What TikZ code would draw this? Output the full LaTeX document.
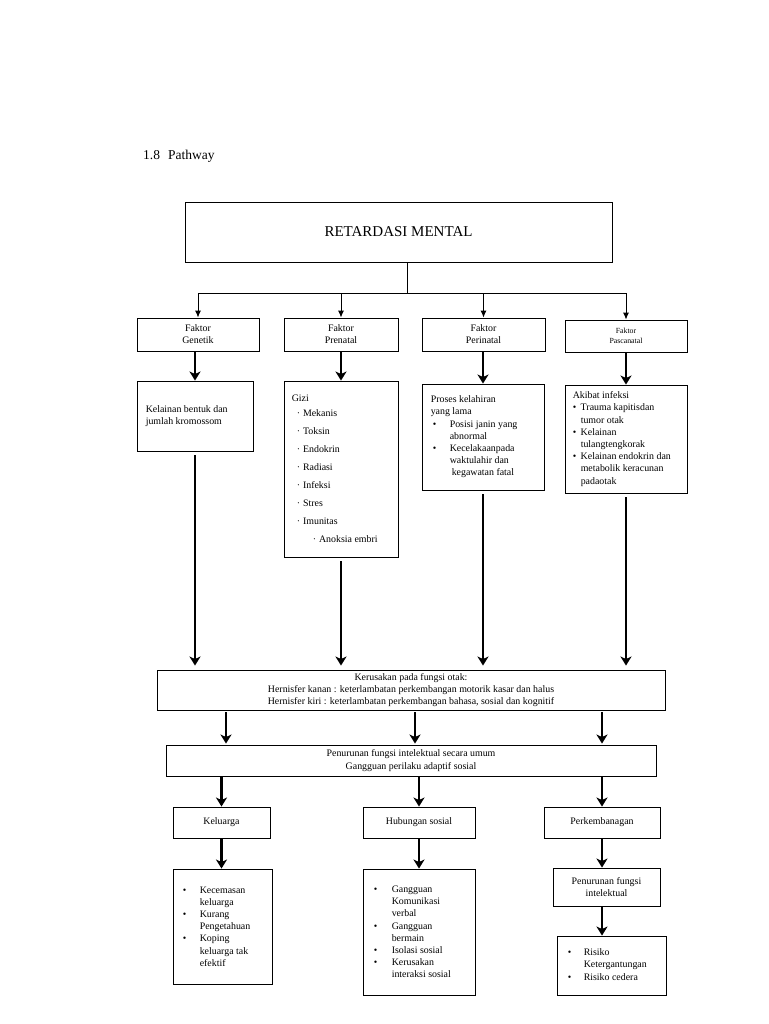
\documentclass[tikz,border=0pt]{standalone}
\usepackage{fontspec}
\setmainfont{Liberation Serif}
\usetikzlibrary{arrows.meta}
\begin{document}
\begin{tikzpicture}[x=1pt,y=-1pt,
  box/.style={draw, line width=0.9pt, inner sep=0pt, align=center, font=\fontsize{9.9}{12}\selectfont},
  txt/.style={inner sep=0pt, anchor=west, align=left, font=\fontsize{9.9}{12.2}\selectfont},
  thin arrow/.style={line width=0.9pt, -{Latex[length=7pt,width=6pt]}},
  bold arrow/.style={line width=2.5pt, -{Stealth[length=9pt,width=11pt,inset=2.5pt]}},
  link/.style={line width=0.9pt}]
\useasboundingbox[fill=white] (0,0) rectangle (768,1024);

\node[anchor=base west, inner sep=0pt, font=\fontsize{13.5}{15}\selectfont] (title) at (143,160) {1.8\hspace{8pt}Pathway};

\node[box, minimum width=427pt, minimum height=60pt, font=\fontsize{15}{18}\selectfont] (rm) at (398.5,232) {RETARDASI MENTAL};

% faktor boxes
\node[box, minimum width=122pt, minimum height=33pt] (fg) at (198,334.5) {Faktor\\Genetik};
\node[box, minimum width=114pt, minimum height=33pt] (fp) at (341,334.5) {Faktor\\Prenatal};
\node[box, minimum width=123pt, minimum height=33pt] (fpe) at (483.5,334.5) {Faktor\\Perinatal};
\node[box, minimum width=122pt, minimum height=32pt, font=\fontsize{7.8}{10.5}\selectfont] (fpc) at (626,336) {Faktor\\Pascanatal};

% content boxes
\node[box, minimum width=116pt, minimum height=70pt] (cg) at (195,416) {};
\node[txt] (tcg) at ([xshift=9pt]cg.west) {Kelainan bentuk dan\\jumlah kromossom};

\node[box, minimum width=114pt, minimum height=176pt] (cp) at (341,469) {};
\node[txt, font=\fontsize{9.9}{18}\selectfont] (tcp) at ([xshift=8pt]cp.west) {Gizi\\[-3pt]
\hspace*{5pt}\textperiodcentered\hspace{3pt}Mekanis\\
\hspace*{5pt}\textperiodcentered\hspace{3pt}Toksin\\
\hspace*{5pt}\textperiodcentered\hspace{3pt}Endokrin\\
\hspace*{5pt}\textperiodcentered\hspace{3pt}Radiasi\\
\hspace*{5pt}\textperiodcentered\hspace{3pt}Infeksi\\
\hspace*{5pt}\textperiodcentered\hspace{3pt}Stres\\
\hspace*{5pt}\textperiodcentered\hspace{3pt}Imunitas\\
\hspace*{21pt}\textperiodcentered\hspace{3pt}Anoksia embri};

\node[box, minimum width=122pt, minimum height=106pt] (cpe) at (483,437) {};
\node[txt] (tcpe) at ([xshift=9pt]cpe.west) {Proses kelahiran\\
yang lama\\
\makebox[19pt][l]{\hspace{2pt}\textbullet}Posisi janin yang\\
\hspace*{19pt}abnormal\\
\makebox[19pt][l]{\hspace{2pt}\textbullet}Kecelakaanpada\\
\hspace*{19pt}waktulahir dan\\
\hspace*{21pt}kegawatan fatal};

\node[box, minimum width=122pt, minimum height=108pt] (cpc) at (626,439) {};
\node[txt] (tcpc) at ([xshift=8pt]cpc.west) {Akibat infeksi\\
\makebox[8pt][l]{\textbullet}Trauma kapitisdan\\
\hspace*{8pt}tumor otak\\
\makebox[8pt][l]{\textbullet}Kelainan\\
\hspace*{8pt}tulangtengkorak\\
\makebox[8pt][l]{\textbullet}Kelainan endokrin dan\\
\hspace*{8pt}metabolik keracunan\\
\hspace*{8pt}padaotak};

% middle wide boxes
\node[box, minimum width=508pt, minimum height=40pt] (ker) at (411,690) {Kerusakan pada fungsi otak:\\
Hernisfer kanan : keterlambatan perkembangan motorik kasar dan halus\\
Hernisfer kiri : keterlambatan perkembangan bahasa, sosial dan kognitif};

\node[box, minimum width=490pt, minimum height=31pt, font=\fontsize{9.9}{13}\selectfont] (pen) at (411,760.5) {Penurunan fungsi intelektual secara umum\\Gangguan perilaku adaptif sosial};

% bottom boxes
\node[box, minimum width=97pt, minimum height=31pt] (kel) at (221.5,822.5) {Keluarga};
\node[box, minimum width=112pt, minimum height=31pt] (hub) at (419,822.5) {Hubungan sosial};
\node[box, minimum width=116pt, minimum height=31pt] (per) at (602,822.5) {Perkembanagan};

\node[box, minimum width=99pt, minimum height=115pt] (ckel) at (222.5,926.5) {};
\node[txt] (tckel) at ([xshift=10pt]ckel.west) {\makebox[17pt][l]{\textbullet}Kecemasan\\
\hspace*{17pt}keluarga\\
\makebox[17pt][l]{\textbullet}Kurang\\
\hspace*{17pt}Pengetahuan\\
\makebox[17pt][l]{\textbullet}Koping\\
\hspace*{17pt}keluarga tak\\
\hspace*{17pt}efektif};

\node[box, minimum width=112pt, minimum height=126pt] (chub) at (419,932) {};
\node[txt] (tchub) at ([xshift=11pt]chub.west) {\makebox[18pt][l]{\textbullet}Gangguan\\
\hspace*{18pt}Komunikasi\\
\hspace*{18pt}verbal\\
\makebox[18pt][l]{\textbullet}Gangguan\\
\hspace*{18pt}bermain\\
\makebox[18pt][l]{\textbullet}Isolasi sosial\\
\makebox[18pt][l]{\textbullet}Kerusakan\\
\hspace*{18pt}interaksi sosial};

\node[box, minimum width=107pt, minimum height=38pt] (pfi) at (606.5,887) {Penurunan fungsi\\intelektual};

\node[box, minimum width=109pt, minimum height=59pt] (ris) at (611.5,965.5) {};
\node[txt] (tris) at ([xshift=11pt, yshift=1pt]ris.west) {\makebox[16pt][l]{\textbullet}Risiko\\
\hspace*{16pt}Ketergantungan\\
\makebox[16pt][l]{\textbullet}Risiko cedera};

% connectors: top
\coordinate (j) at (407,293);
\draw[link] (rm.south -| j) -- (j);
\draw[link] (j -| fg) -- (j -| fpc);
\foreach \n in {fg,fp,fpe,fpc} \draw[thin arrow] (j -| \n) -- (\n.north);

% faktor -> content
\foreach \a/\b in {fg/cg,fp/cp,fpe/cpe,fpc/cpc}
  \draw[bold arrow] (\a.south -| \b) -- (\b.north);

% content -> kerusakan
\foreach \b in {cg,cp,cpe,cpc}
  \draw[bold arrow, shorten <=4pt, shorten >=4pt] (\b.south) -- (\b.south |- ker.north);

% kerusakan -> penurunan
\coordinate (a1) at (226,0);
\coordinate (a2) at (415,0);
\coordinate (a3) at (602,0);
\foreach \c in {a1,a2,a3}
  \draw[bold arrow, shorten <=2pt, shorten >=1pt] (ker.south -| \c) -- (pen.north -| \c);

% penurunan -> categories
\foreach \b in {kel,hub,per}
  \draw[bold arrow] (pen.south -| \b) -- (\b.north);

% categories -> details
\draw[bold arrow] (kel.south) -- (ckel.north -| kel);
\draw[bold arrow] (hub.south) -- (chub.north);
\draw[bold arrow] (per.south) -- (pfi.north -| per);
\draw[bold arrow] (pfi.south -| per) -- (ris.north -| per);
\end{tikzpicture}
\end{document}
